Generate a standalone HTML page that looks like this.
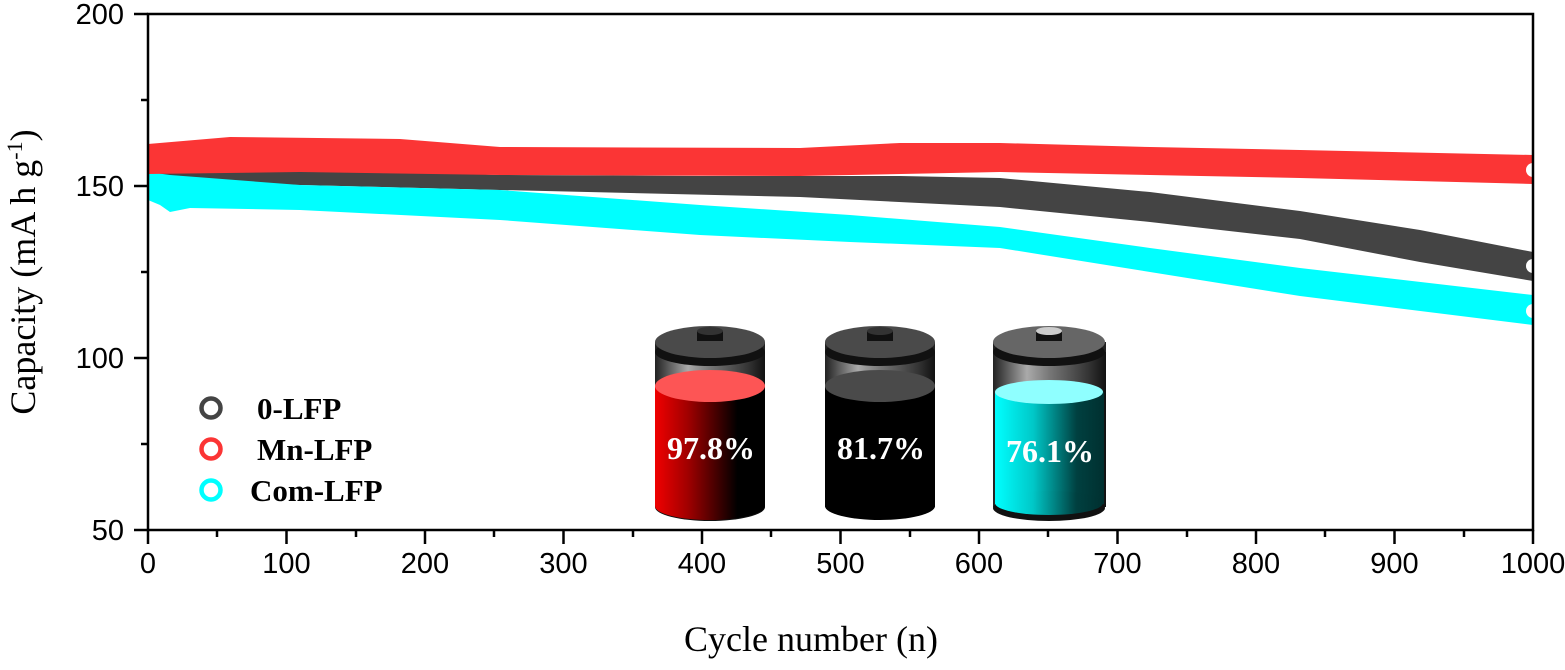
<!DOCTYPE html>
<html><head><meta charset="utf-8"><style>html,body{margin:0;padding:0;background:#fff}</style></head>
<body>
<svg width="1565" height="665" viewBox="0 0 1565 665" xmlns="http://www.w3.org/2000/svg">
<defs>
<linearGradient id="redg" x1="0" x2="1"><stop offset="0" stop-color="#f00000"/><stop offset="0.3" stop-color="#a00000"/><stop offset="0.75" stop-color="#000"/></linearGradient>
<linearGradient id="cyg" x1="0" x2="1"><stop offset="0" stop-color="#00ffff"/><stop offset="0.35" stop-color="#00c8c8"/><stop offset="0.75" stop-color="#004040"/><stop offset="1" stop-color="#003030"/></linearGradient>
<linearGradient id="glass" x1="0" x2="1"><stop offset="0" stop-color="#222"/><stop offset="0.3" stop-color="#aaa"/><stop offset="0.5" stop-color="#777"/><stop offset="0.85" stop-color="#333"/><stop offset="1" stop-color="#111"/></linearGradient>
<clipPath id="pc"><rect x="148" y="14" width="1385" height="516"/></clipPath>
</defs>
<g clip-path="url(#pc)" stroke-linejoin="round">
<polygon fill="#444" points="148,172 300,168 500,175 700,176 900,176 1000,178 1150,192 1300,211 1420,230 1533,252 1533,281 1420,262 1300,239 1150,222 1000,207 800,197 500,190 300,185 148,182"/>
<polygon fill="#00ffff" points="148,172 170,175 300,185 500,190 700,205 850,215 1000,227 1150,248 1300,268 1533,295 1533,325 1300,296 1150,272 1000,248 850,242 700,235 500,220 300,210 190,208 170,212 160,205 148,200"/>
<polygon fill="#fb3535" points="148,144 230,137 400,139 500,147 800,148 900,143 1000,143 1150,147 1300,150 1533,155 1533,184 1300,178 1150,175 1000,172 800,176 500,175 300,172 148,174"/>
<circle cx="1533" cy="170" r="7" fill="#fff"/>
<circle cx="1533" cy="266" r="7" fill="#fff"/>
<circle cx="1533" cy="311" r="7" fill="#fff"/>
</g>
<g>
 <rect x="655" y="342" width="110" height="165" fill="url(#glass)"/>
 <ellipse cx="710" cy="507" rx="55" ry="14" fill="#111"/>
 <rect x="655" y="386" width="110" height="120" fill="url(#redg)"/>
 <ellipse cx="710" cy="506" rx="55" ry="14" fill="url(#redg)"/>
 <ellipse cx="710" cy="386" rx="55" ry="16" fill="#fd5555"/>
 <rect x="655" y="342" width="110" height="10" fill="#222"/>
 <ellipse cx="710" cy="352" rx="55" ry="14" fill="#111"/>
 <ellipse cx="710" cy="342" rx="55" ry="16" fill="#4a4a4a"/>
 <rect x="697" y="331" width="26" height="10" fill="#111"/>
 <ellipse cx="710" cy="331" rx="13" ry="4" fill="#333"/>
 <text x="711" y="459" font-family="Liberation Serif, serif" font-weight="bold" font-size="32" fill="#fff" text-anchor="middle">97.8%</text>
 <rect x="825" y="342" width="110" height="165" fill="url(#glass)"/>
 <rect x="825" y="386" width="110" height="120" fill="#000"/>
 <ellipse cx="880" cy="506" rx="55" ry="14" fill="#000"/>
 <ellipse cx="880" cy="386" rx="55" ry="16" fill="#4a4a4a"/>
 <rect x="825" y="342" width="110" height="10" fill="#222"/>
 <ellipse cx="880" cy="352" rx="55" ry="14" fill="#111"/>
 <ellipse cx="880" cy="342" rx="55" ry="16" fill="#4a4a4a"/>
 <rect x="867" y="331" width="26" height="10" fill="#111"/>
 <ellipse cx="880" cy="331" rx="13" ry="4" fill="#333"/>
 <text x="881" y="459" font-family="Liberation Serif, serif" font-weight="bold" font-size="32" fill="#fff" text-anchor="middle">81.7%</text>
 <rect x="993" y="342" width="113" height="165" fill="url(#glass)"/>
 <ellipse cx="1049" cy="508" rx="56" ry="13" fill="#111"/>
 <rect x="995" y="392" width="109" height="112" fill="url(#cyg)"/>
 <ellipse cx="1049" cy="503" rx="54" ry="12" fill="url(#cyg)"/>
 <ellipse cx="1049" cy="392" rx="54" ry="12" fill="#8fffff"/>
 <rect x="993" y="342" width="113" height="10" fill="#222"/>
 <ellipse cx="1049" cy="352" rx="56" ry="14" fill="#111"/>
 <ellipse cx="1049" cy="342" rx="56" ry="16" fill="#666"/>
 <rect x="1036" y="331" width="26" height="10" fill="#111"/>
 <ellipse cx="1049" cy="331" rx="13" ry="4" fill="#ccc"/>
 <text x="1050" y="462" font-family="Liberation Serif, serif" font-weight="bold" font-size="32" fill="#fff" text-anchor="middle">76.1%</text>
</g>
<rect x="148" y="14" width="1385" height="516" fill="none" stroke="#000" stroke-width="2.5"/>
<g stroke="#000" stroke-width="2.5">
 <line x1="134" y1="14" x2="148" y2="14"/><line x1="134" y1="186" x2="148" y2="186"/><line x1="134" y1="358" x2="148" y2="358"/><line x1="134" y1="530" x2="148" y2="530"/>
 <line x1="141" y1="100" x2="148" y2="100"/><line x1="141" y1="272" x2="148" y2="272"/><line x1="141" y1="444" x2="148" y2="444"/>
 <line x1="148" y1="530" x2="148" y2="544"/><line x1="286.5" y1="530" x2="286.5" y2="544"/><line x1="425" y1="530" x2="425" y2="544"/><line x1="563.5" y1="530" x2="563.5" y2="544"/><line x1="702" y1="530" x2="702" y2="544"/><line x1="840.5" y1="530" x2="840.5" y2="544"/><line x1="979" y1="530" x2="979" y2="544"/><line x1="1117.5" y1="530" x2="1117.5" y2="544"/><line x1="1256" y1="530" x2="1256" y2="544"/><line x1="1394.5" y1="530" x2="1394.5" y2="544"/><line x1="1533" y1="530" x2="1533" y2="544"/>
 <line x1="217" y1="530" x2="217" y2="537"/><line x1="356" y1="530" x2="356" y2="537"/><line x1="494" y1="530" x2="494" y2="537"/><line x1="633" y1="530" x2="633" y2="537"/><line x1="771" y1="530" x2="771" y2="537"/><line x1="910" y1="530" x2="910" y2="537"/><line x1="1048" y1="530" x2="1048" y2="537"/><line x1="1187" y1="530" x2="1187" y2="537"/><line x1="1325" y1="530" x2="1325" y2="537"/><line x1="1464" y1="530" x2="1464" y2="537"/>
</g>
<g font-family="Liberation Sans, Arial, sans-serif" font-size="29" fill="#000">
 <g text-anchor="end"><text x="124" y="24">200</text><text x="124" y="196">150</text><text x="124" y="368">100</text><text x="124" y="540">50</text></g>
 <g text-anchor="middle"><text x="148" y="573">0</text><text x="286.5" y="573">100</text><text x="425" y="573">200</text><text x="563.5" y="573">300</text><text x="702" y="573">400</text><text x="840.5" y="573">500</text><text x="979" y="573">600</text><text x="1117.5" y="573">700</text><text x="1256" y="573">800</text><text x="1394.5" y="573">900</text><text x="1533" y="573">1000</text></g>
</g>
<text x="811" y="651" font-family="Liberation Serif, serif" font-size="36" text-anchor="middle">Cycle number (n)</text>
<text transform="translate(35,272) rotate(-90)" font-family="Liberation Serif, serif" font-size="36" text-anchor="middle">Capacity (mA h g<tspan font-size="22" dy="-13">-1</tspan><tspan dy="13">)</tspan></text>
<g fill="none" stroke-width="4.5">
 <circle cx="211" cy="408" r="9.5" stroke="#444"/>
 <circle cx="211" cy="449" r="9.5" stroke="#fb3535"/>
 <circle cx="211" cy="490" r="9.5" stroke="#00ffff"/>
</g>
<g font-family="Liberation Serif, serif" font-weight="bold" font-size="31" fill="#000">
 <text x="257" y="419">0-LFP</text>
 <text x="257" y="460">Mn-LFP</text>
 <text x="250" y="501">Com-LFP</text>
</g>
</svg>
</body></html>
